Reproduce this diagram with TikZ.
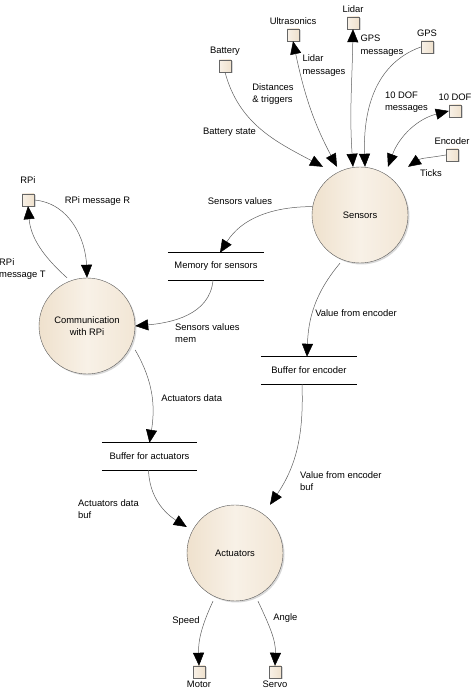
\documentclass[tikz,border=0pt]{standalone}
\usepackage{fontspec}
\setmainfont{Liberation Sans}
\usetikzlibrary{arrows.meta,shadows}

\definecolor{bubbleL}{HTML}{EFE1CD}
\definecolor{bubbleM}{HTML}{F8F1E7}
\definecolor{bubbleR}{HTML}{F2E6D5}
\definecolor{flowgray}{HTML}{5E5E5E}

\tikzset{
	process/.style={circle, draw=black!65, thin, minimum size=96pt, inner sep=0pt, align=center,
		left color=bubbleL, right color=bubbleR, middle color=bubbleM,
		drop shadow={shadow xshift=1.5pt, shadow yshift=-1.5pt, fill=black!30}},
	entity/.style={rectangle, draw=black!60, thin, minimum size=12pt, inner sep=0pt,
		left color=bubbleM, right color=bubbleL,
		drop shadow={shadow xshift=1.5pt, shadow yshift=-1.5pt, fill=black!30}},
	store/.style={minimum width=96pt, minimum height=27pt, inner sep=0pt},
	flow/.style={-{Triangle[length=13pt,width=11pt,color=black]}, draw=flowgray, line width=0.5pt},
	both/.style={{Triangle[length=13pt,width=11pt,color=black]}-{Triangle[length=13pt,width=11pt,color=black]}, draw=flowgray, line width=0.5pt},
	lbl/.style={inner sep=0pt, align=left},
	every label/.style={inner sep=0pt}
}

\begin{document}
\begin{tikzpicture}[x=1pt, y=1pt, font=\fontsize{9.4}{12.5}\selectfont]
	\useasboundingbox (0,0) rectangle (474,692);

	\node (sen) at (360,477) [process] {Sensors};
	\node (comm) at (87,366) [process] {Communication\\with RPi};
	\node (act) at (235,139) [process] {Actuators};

	\node (mem) at (216,425.5) [store] {Memory for sensors};
	\node (bufenc) at (309,321.5) [store] {Buffer for encoder};
	\node (bufact) at (149.5,235.5) [store, minimum width=95pt] {Buffer for actuators};
	\foreach \s in {mem,bufenc,bufact}
		\draw[line width=0.8pt] (\s.north west) -- (\s.north east) (\s.south west) -- (\s.south east);

	\node (bat) at (225,626) [entity, label={[label distance=4pt]above:Battery}] {};
	\node (ult) at (293,657) [entity, label={[label distance=4pt]above:Ultrasonics}] {};
	\node (lid) at (353,669) [entity, label={[label distance=4pt]above:Lidar}] {};
	\node (gps) at (427,645) [entity, label={[label distance=4pt]above:GPS}] {};
	\node (dof) at (455,581) [entity, label={[label distance=4pt]above:10 DOF}] {};
	\node (enc) at (452,537) [entity, label={[label distance=4pt]above:Encoder}] {};
	\node (rpi) at (28,492) [entity, label={[label distance=10pt]above:RPi}] {};
	\node (mot) at (199,20) [entity, label={[label distance=3pt]below:Motor}] {};
	\node (ser) at (275,20) [entity, label={[label distance=3pt]below:Servo}] {};

	\draw[flow] (bat.south) to[out=-75,in=152] ([xshift=-37pt]sen.north);
	\draw[both] (ult.south) to[out=-78,in=118] ([xshift=-23pt]sen.north);
	\draw[both] (lid.south) to[out=-91,in=94] ([xshift=-7pt]sen.north);
	\draw[flow] (gps.west) to[out=200,in=92] ([xshift=5pt]sen.north);
	\draw[both] (dof.west) to[out=194,in=70] ([xshift=28pt]sen.north);
	\draw[flow] (enc.west) to[out=190,in=34] ([xshift=48pt]sen.north);

	\draw[flow] (sen.170) to[out=180,in=58] ([xshift=4pt]mem.north);
	\draw[flow] ([xshift=-3pt]mem.south) to[out=-95,in=5] (comm.east);
	\draw[flow] (rpi.east) to[out=-5,in=92] (comm.north);
	\draw[flow] ([xshift=-20pt]comm.north) to[out=138,in=-85] (rpi.south);
	\draw[flow] ([yshift=-24pt]comm.east) to[out=-60,in=81] (bufact.north);
	\draw[flow] ([xshift=-1pt]bufact.south) to[out=-88,in=148] ([yshift=26pt]act.west);
	\draw[flow] ([xshift=-20pt]sen.south) to[out=-130,in=88] ([xshift=-2pt]bufenc.north);
	\draw[flow] ([xshift=-7pt]bufenc.south) to[out=-88,in=56] ([xshift=35pt]act.north);
	\draw[flow] ([xshift=-22pt]act.south) to[out=-115,in=92] (mot.north);
	\draw[flow] ([xshift=23pt]act.south) to[out=-65,in=88] (ser.north);

	\node (lbat) at (229.5,560) [lbl] {Battery state};
	\node (ldist) at (273,598) [lbl] {Distances\\\& triggers};
	\node (llid) at (324,626.5) [lbl] {Lidar\\messages};
	\node (lgps) at (382,646.5) [lbl] {GPS\\messages};
	\node (ldof) at (406.5,590) [lbl] {10 DOF\\messages};
	\node (ltick) at (431,519) [lbl] {Ticks};
	\node (lsv) at (240,491) [lbl] {Sensors values};
	\node (lsvm) at (175,359) [lbl, anchor=west] {Sensors values\\mem};
	\node (lrr) at (97.5,491) [lbl] {RPi message R};
	\node (lrt) at (-1,423) [lbl, anchor=west] {RPi\\message T};
	\node (lvfe) at (356,379) [lbl] {Value from encoder};
	\node (lad) at (191.7,293.7) [lbl] {Actuators data};
	\node (ladb) at (78,183) [lbl, anchor=west] {Actuators data\\buf};
	\node (lvfeb) at (300,211) [lbl, anchor=west] {Value from encoder\\buf};
	\node (lspd) at (186,71) [lbl] {Speed};
	\node (lang) at (285.3,74) [lbl] {Angle};
\end{tikzpicture}
\end{document}
